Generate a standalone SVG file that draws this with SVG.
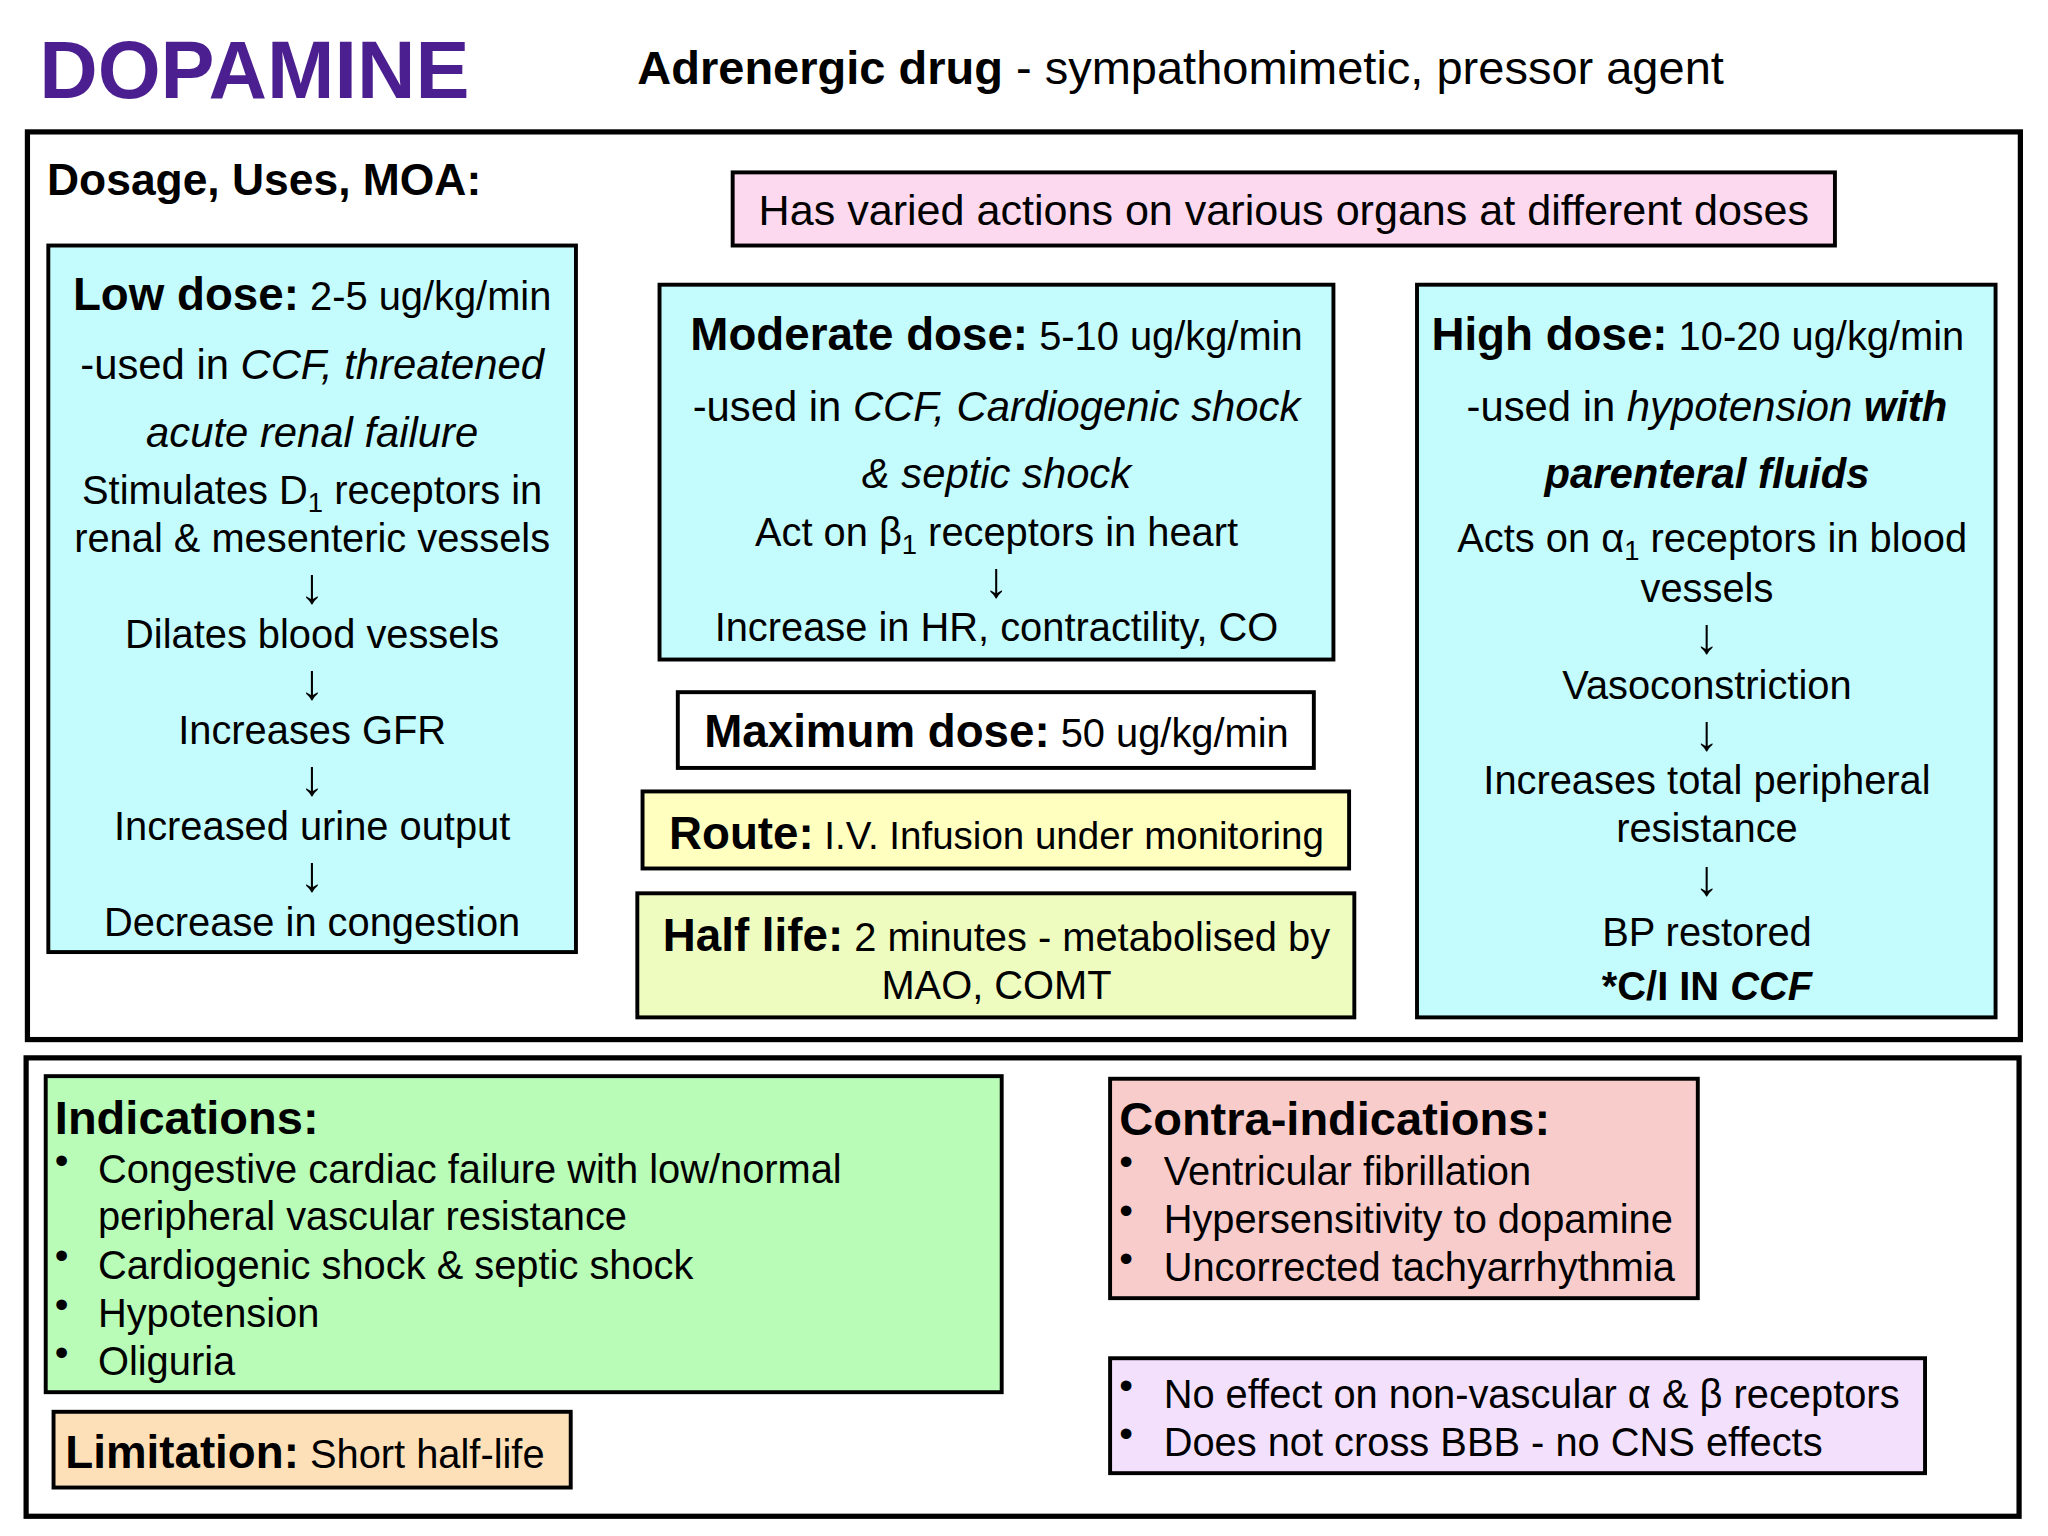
<svg xmlns="http://www.w3.org/2000/svg" width="2048" height="1536" viewBox="0 0 2048 1536">
<style>
text{font-family:"Liberation Sans",Arial,sans-serif;fill:#000;font-size:30.5px}
.c{text-anchor:middle}
.b{font-weight:bold}
.i{font-style:italic}
.h{font-weight:bold;font-size:35px}
.box{stroke:#000;stroke-width:3}
.outer{fill:none;stroke:#000;stroke-width:4}
.sub{font-size:21px}
.ar{font-size:38px}
.bu{font-size:30px}
</style>
<rect width="2048" height="1536" fill="#fff"/>
<g transform="scale(1.306)">
<g id="title">
<text x="30" y="75" class="b" style="font-size:62px;fill:#4b1f8f">DOPAMINE</text>
<text x="488" y="64" style="font-size:36px"><tspan class="b">Adrenergic drug</tspan> - sympathomimetic, pressor agent</text>
</g>
<rect class="outer" x="21" y="101" width="1526" height="695"/>
<text x="36" y="149" class="b" style="font-size:34px">Dosage, Uses, MOA:</text>
<g id="note">
<rect class="box" x="561" y="132" width="844" height="56" fill="#fcd9ef"/>
<text x="983" y="172" class="c" style="font-size:33px">Has varied actions on various organs at different doses</text>
</g>
<g id="low">
<rect class="box" x="37" y="188" width="404" height="541" fill="#c4fcfe"/>
<text x="239" y="237" class="c"><tspan class="h">Low dose:</tspan> 2-5 ug/kg/min</text>
<text x="239" y="290" class="c" style="font-size:32px">-used in <tspan class="i">CCF, threatened</tspan></text>
<text x="239" y="342" class="c i" style="font-size:32px">acute renal failure</text>
<text x="239" y="386" class="c">Stimulates D<tspan class="sub" dy="6">1</tspan><tspan dy="-6"> receptors in</tspan></text>
<text x="239" y="423" class="c">renal &amp; mesenteric vessels</text>
<text x="239" y="462" class="c ar">↓</text>
<text x="239" y="496" class="c">Dilates blood vessels</text>
<text x="239" y="535" class="c ar">↓</text>
<text x="239" y="570" class="c">Increases GFR</text>
<text x="239" y="609" class="c ar">↓</text>
<text x="239" y="643" class="c">Increased urine output</text>
<text x="239" y="682" class="c ar">↓</text>
<text x="239" y="717" class="c">Decrease in congestion</text>
</g>
<g id="moderate">
<rect class="box" x="505" y="218" width="516" height="287" fill="#c4fcfe"/>
<text x="763" y="268" class="c"><tspan class="h">Moderate dose:</tspan> 5-10 ug/kg/min</text>
<text x="763" y="322" class="c" style="font-size:32px">-used in <tspan class="i">CCF, Cardiogenic shock</tspan></text>
<text x="763" y="374" class="c i" style="font-size:32px">&amp; septic shock</text>
<text x="763" y="418" class="c">Act on β<tspan class="sub" dy="6">1</tspan><tspan dy="-6"> receptors in heart</tspan></text>
<text x="763" y="457" class="c ar">↓</text>
<text x="763" y="491" class="c">Increase in HR, contractility, CO</text>
</g>
<g id="max">
<rect class="box" x="519" y="530" width="487" height="58" fill="#fff"/>
<text x="763" y="572" class="c"><tspan class="h">Maximum dose:</tspan> 50 ug/kg/min</text>
</g>
<g id="route">
<rect class="box" x="492" y="606" width="541" height="59" fill="#ffffc0"/>
<text x="763" y="650" class="c" style="font-size:29.5px"><tspan class="h">Route:</tspan> I.V. Infusion under monitoring</text>
</g>
<g id="halflife">
<rect class="box" x="488" y="684" width="549" height="95" fill="#eefcc0"/>
<text x="763" y="728" class="c"><tspan class="h">Half life:</tspan> 2 minutes - metabolised by</text>
<text x="763" y="765" class="c">MAO, COMT</text>
</g>
<g id="high">
<rect class="box" x="1085" y="218" width="443" height="561" fill="#c4fcfe"/>
<text x="1300" y="268" class="c"><tspan class="h">High dose:</tspan> 10-20 ug/kg/min</text>
<text x="1307" y="322" class="c" style="font-size:32px">-used in <tspan class="i">hypotension</tspan> <tspan class="i b">with</tspan></text>
<text x="1307" y="374" class="c i b" style="font-size:32px">parenteral fluids</text>
<text x="1311" y="423" class="c">Acts on α<tspan class="sub" dy="6">1</tspan><tspan dy="-6"> receptors in blood</tspan></text>
<text x="1307" y="461" class="c">vessels</text>
<text x="1307" y="500" class="c ar">↓</text>
<text x="1307" y="535" class="c">Vasoconstriction</text>
<text x="1307" y="574" class="c ar">↓</text>
<text x="1307" y="608" class="c">Increases total peripheral</text>
<text x="1307" y="645" class="c">resistance</text>
<text x="1307" y="685" class="c ar">↓</text>
<text x="1307" y="724" class="c">BP restored</text>
<text x="1307" y="766" class="c b">*C/I IN <tspan class="i">CCF</tspan></text>
</g>
<rect class="outer" x="20" y="810" width="1526" height="351"/>
<g id="indications">
<rect class="box" x="35" y="824" width="732" height="242" fill="#b8fcb8"/>
<text x="42" y="868" class="h" style="font-size:36px">Indications:</text>
<text x="42" y="899" class="bu">•</text><text x="75" y="906">Congestive cardiac failure with low/normal</text>
<text x="75" y="942">peripheral vascular resistance</text>
<text x="42" y="972" class="bu">•</text><text x="75" y="979">Cardiogenic shock &amp; septic shock</text>
<text x="42" y="1009" class="bu">•</text><text x="75" y="1016">Hypotension</text>
<text x="42" y="1046" class="bu">•</text><text x="75" y="1053">Oliguria</text>
</g>
<g id="contra">
<rect class="box" x="850" y="826" width="450" height="168" fill="#f9cccc"/>
<text x="857" y="869" class="h" style="font-size:36px">Contra-indications:</text>
<text x="857" y="900" class="bu">•</text><text x="891" y="907">Ventricular fibrillation</text>
<text x="857" y="937" class="bu">•</text><text x="891" y="944">Hypersensitivity to dopamine</text>
<text x="857" y="974" class="bu">•</text><text x="891" y="981">Uncorrected tachyarrhythmia</text>
</g>
<g id="notes">
<rect class="box" x="850" y="1040" width="624" height="88" fill="#f2e0fc"/>
<text x="857" y="1071" class="bu">•</text><text x="891" y="1078">No effect on non-vascular α &amp; β receptors</text>
<text x="857" y="1108" class="bu">•</text><text x="891" y="1115">Does not cross BBB - no CNS effects</text>
</g>
<g id="limitation">
<rect class="box" x="41" y="1081" width="396" height="58" fill="#fde0b8"/>
<text x="50" y="1124"><tspan class="h">Limitation:</tspan> Short half-life</text>
</g>
<g id="connectors"></g>
</g>
</svg>
